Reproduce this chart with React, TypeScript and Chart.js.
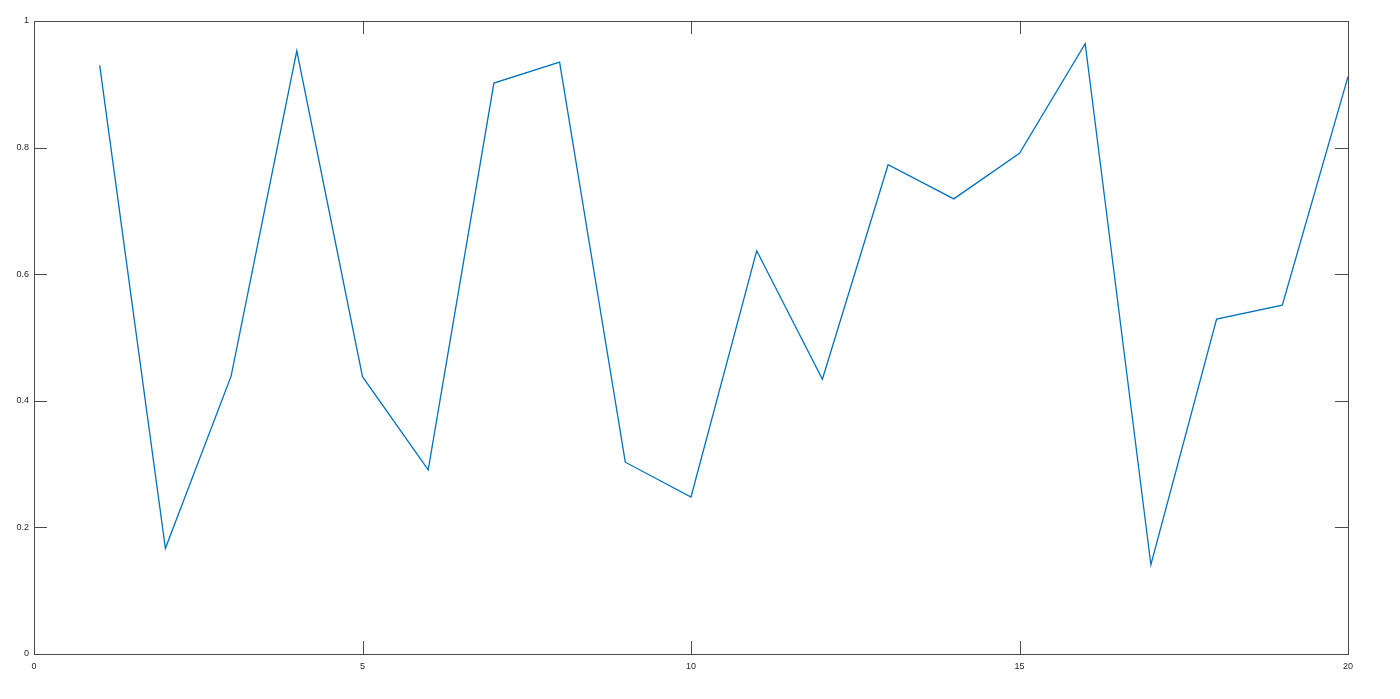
import React, { useEffect, useRef } from "react";
import { Chart, registerables } from "chart.js";

Chart.register(...registerables);

const xValues = [1, 2, 3, 4, 5, 6, 7, 8, 9, 10, 11, 12, 13, 14, 15, 16, 17, 18, 19, 20];
const yValues = [0.930, 0.167, 0.439, 0.953, 0.438, 0.291, 0.902, 0.935, 0.303, 0.248, 0.637, 0.434, 0.773, 0.719, 0.791, 0.964, 0.141, 0.529, 0.551, 0.912];
const xTicks = [0, 5, 10, 15, 20];
const yTicks = [0, 0.2, 0.4, 0.6, 0.8, 1];

const boxPlugin = {
  id: "matlabBox",
  afterDraw(chart: any) {
    const { ctx, chartArea } = chart;
    const { left, right, top, bottom } = chartArea;
    const xs = chart.scales.x;
    const ys = chart.scales.y;
    const len = 13;
    ctx.save();
    ctx.strokeStyle = "#4a4a4a";
    ctx.lineWidth = 1;
    ctx.beginPath();
    for (const v of xTicks) {
      const px = Math.round(xs.getPixelForValue(v)) + 0.5;
      ctx.moveTo(px, bottom);
      ctx.lineTo(px, bottom - len);
      ctx.moveTo(px, top);
      ctx.lineTo(px, top + len);
    }
    for (const v of yTicks) {
      const py = Math.round(ys.getPixelForValue(v)) + 0.5;
      ctx.moveTo(left, py);
      ctx.lineTo(left + len, py);
      ctx.moveTo(right, py);
      ctx.lineTo(right - len, py);
    }
    ctx.stroke();
    ctx.strokeRect(Math.round(left) + 0.5, Math.round(top) + 0.5, Math.round(right - left), Math.round(bottom - top));
    ctx.restore();
  },
};

export default function App() {
  const ref = useRef<HTMLCanvasElement | null>(null);
  useEffect(() => {
    if (!ref.current) return;
    const chart = new Chart(ref.current, {
      type: "line",
      data: {
        datasets: [
          {
            data: xValues.map((x, i) => ({ x, y: yValues[i] })),
            borderColor: "#0072BD",
            borderWidth: 1.3,
            pointRadius: 0,
            tension: 0,
            fill: false,
          },
        ],
      },
      options: {
        animation: false,
        responsive: false,
        maintainAspectRatio: false,
        layout: { padding: { top: 21, right: 52, left: 0, bottom: 0 } },
        plugins: { legend: { display: false }, tooltip: { enabled: false } },
        scales: {
          x: {
            type: "linear",
            min: 0,
            max: 20,
            afterBuildTicks: (s: any) => {
              s.ticks = xTicks.map((v) => ({ value: v }));
            },
            afterFit: (s: any) => {
              s.height = 45;
            },
            grid: { display: false, drawTicks: false },
            border: { display: false },
            ticks: {
              padding: 7,
              color: "#262626",
              font: { family: "Liberation Sans, Arial, sans-serif", size: 9 },
              maxRotation: 0,
              callback: (v: any) => String(v),
            },
          },
          y: {
            type: "linear",
            min: 0,
            max: 1,
            afterBuildTicks: (s: any) => {
              s.ticks = yTicks.map((v) => ({ value: v }));
            },
            afterFit: (s: any) => {
              s.width = 34;
            },
            grid: { display: false, drawTicks: false },
            border: { display: false },
            ticks: {
              padding: 5,
              color: "#262626",
              font: { family: "Liberation Sans, Arial, sans-serif", size: 9 },
              callback: (v: any) => String(Math.round(v * 10) / 10),
            },
          },
        },
      },
      plugins: [boxPlugin],
    });
    return () => chart.destroy();
  }, []);
  return (
    <div style={{ position: "absolute", left: 0, top: 0, width: 1400, height: 699, background: "#fff" }}>
      <canvas ref={ref} width={1400} height={699} style={{ width: 1400, height: 699, display: "block" }} />
    </div>
  );
}
